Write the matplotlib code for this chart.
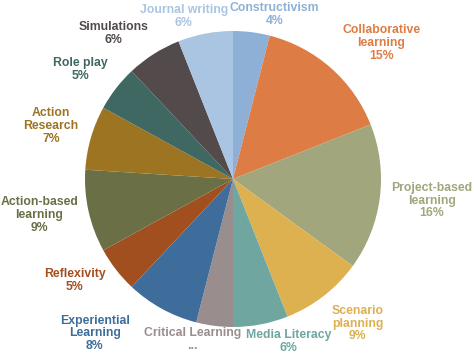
import numpy as np
import matplotlib.pyplot as plt

# share of each approach, clockwise from the top
labels = ["Constructivism", "Collaborative\nlearning", "Project-based\nlearning",
          "Scenario\nplanning", "Media Literacy", "Critical Learning",
          "Experiential\nLearning", "Reflexivity", "Action-based\nlearning",
          "Action\nResearch", "Role play", "Simulations", "Journal writing"]
values = [4, 15, 16, 9, 6, 4, 8, 5, 9, 7, 5, 6, 6]
pct_text = ["4%", "15%", "16%", "9%", "6%", "...", "8%", "5%", "9%", "7%", "5%", "6%", "6%"]

colors = ["#8fb0d6", "#de7c45", "#a2a67c", "#ddb050", "#6fa6a0", "#9a8d8d",
          "#3f6d9b", "#a24f1f", "#6a6f46", "#9c7422", "#3f6862", "#524a4b", "#a9c5e2"]
# label placement: radius (pie radius = 1) and angle nudge in degrees (clockwise)
label_r = [1.145, 1.36, 1.35, 1.29, 1.16, 1.12, 1.40, 1.27, 1.33, 1.28, 1.27, 1.27, 1.15]
label_da = [7, 6, -1, -3, -8, 7, 13, 5, 2, 0, -2, -7, -6]

fig = plt.figure(figsize=(4.74, 3.58), dpi=100)
ax = fig.add_axes([0, 0, 1, 1])
wedges, _ = ax.pie(values, colors=colors, startangle=90, counterclock=False,
                   wedgeprops=dict(linewidth=0))
ax.set_xlim(-233 / 148, 241 / 148)
ax.set_ylim(-179 / 148, 179 / 148)
ax.set_aspect("equal")
ax.axis("off")

for w, lab, pct, c, r, da in zip(wedges, labels, pct_text, colors, label_r, label_da):
    mid = np.deg2rad((w.theta1 + w.theta2) / 2 - da)
    ax.text(r * np.cos(mid), r * np.sin(mid), lab + "\n" + pct, color=c,
            ha="center", va="center", fontsize=8.8, fontweight="bold",
            family="Liberation Sans", linespacing=1.1)

fig.savefig("out.png", dpi=100)
